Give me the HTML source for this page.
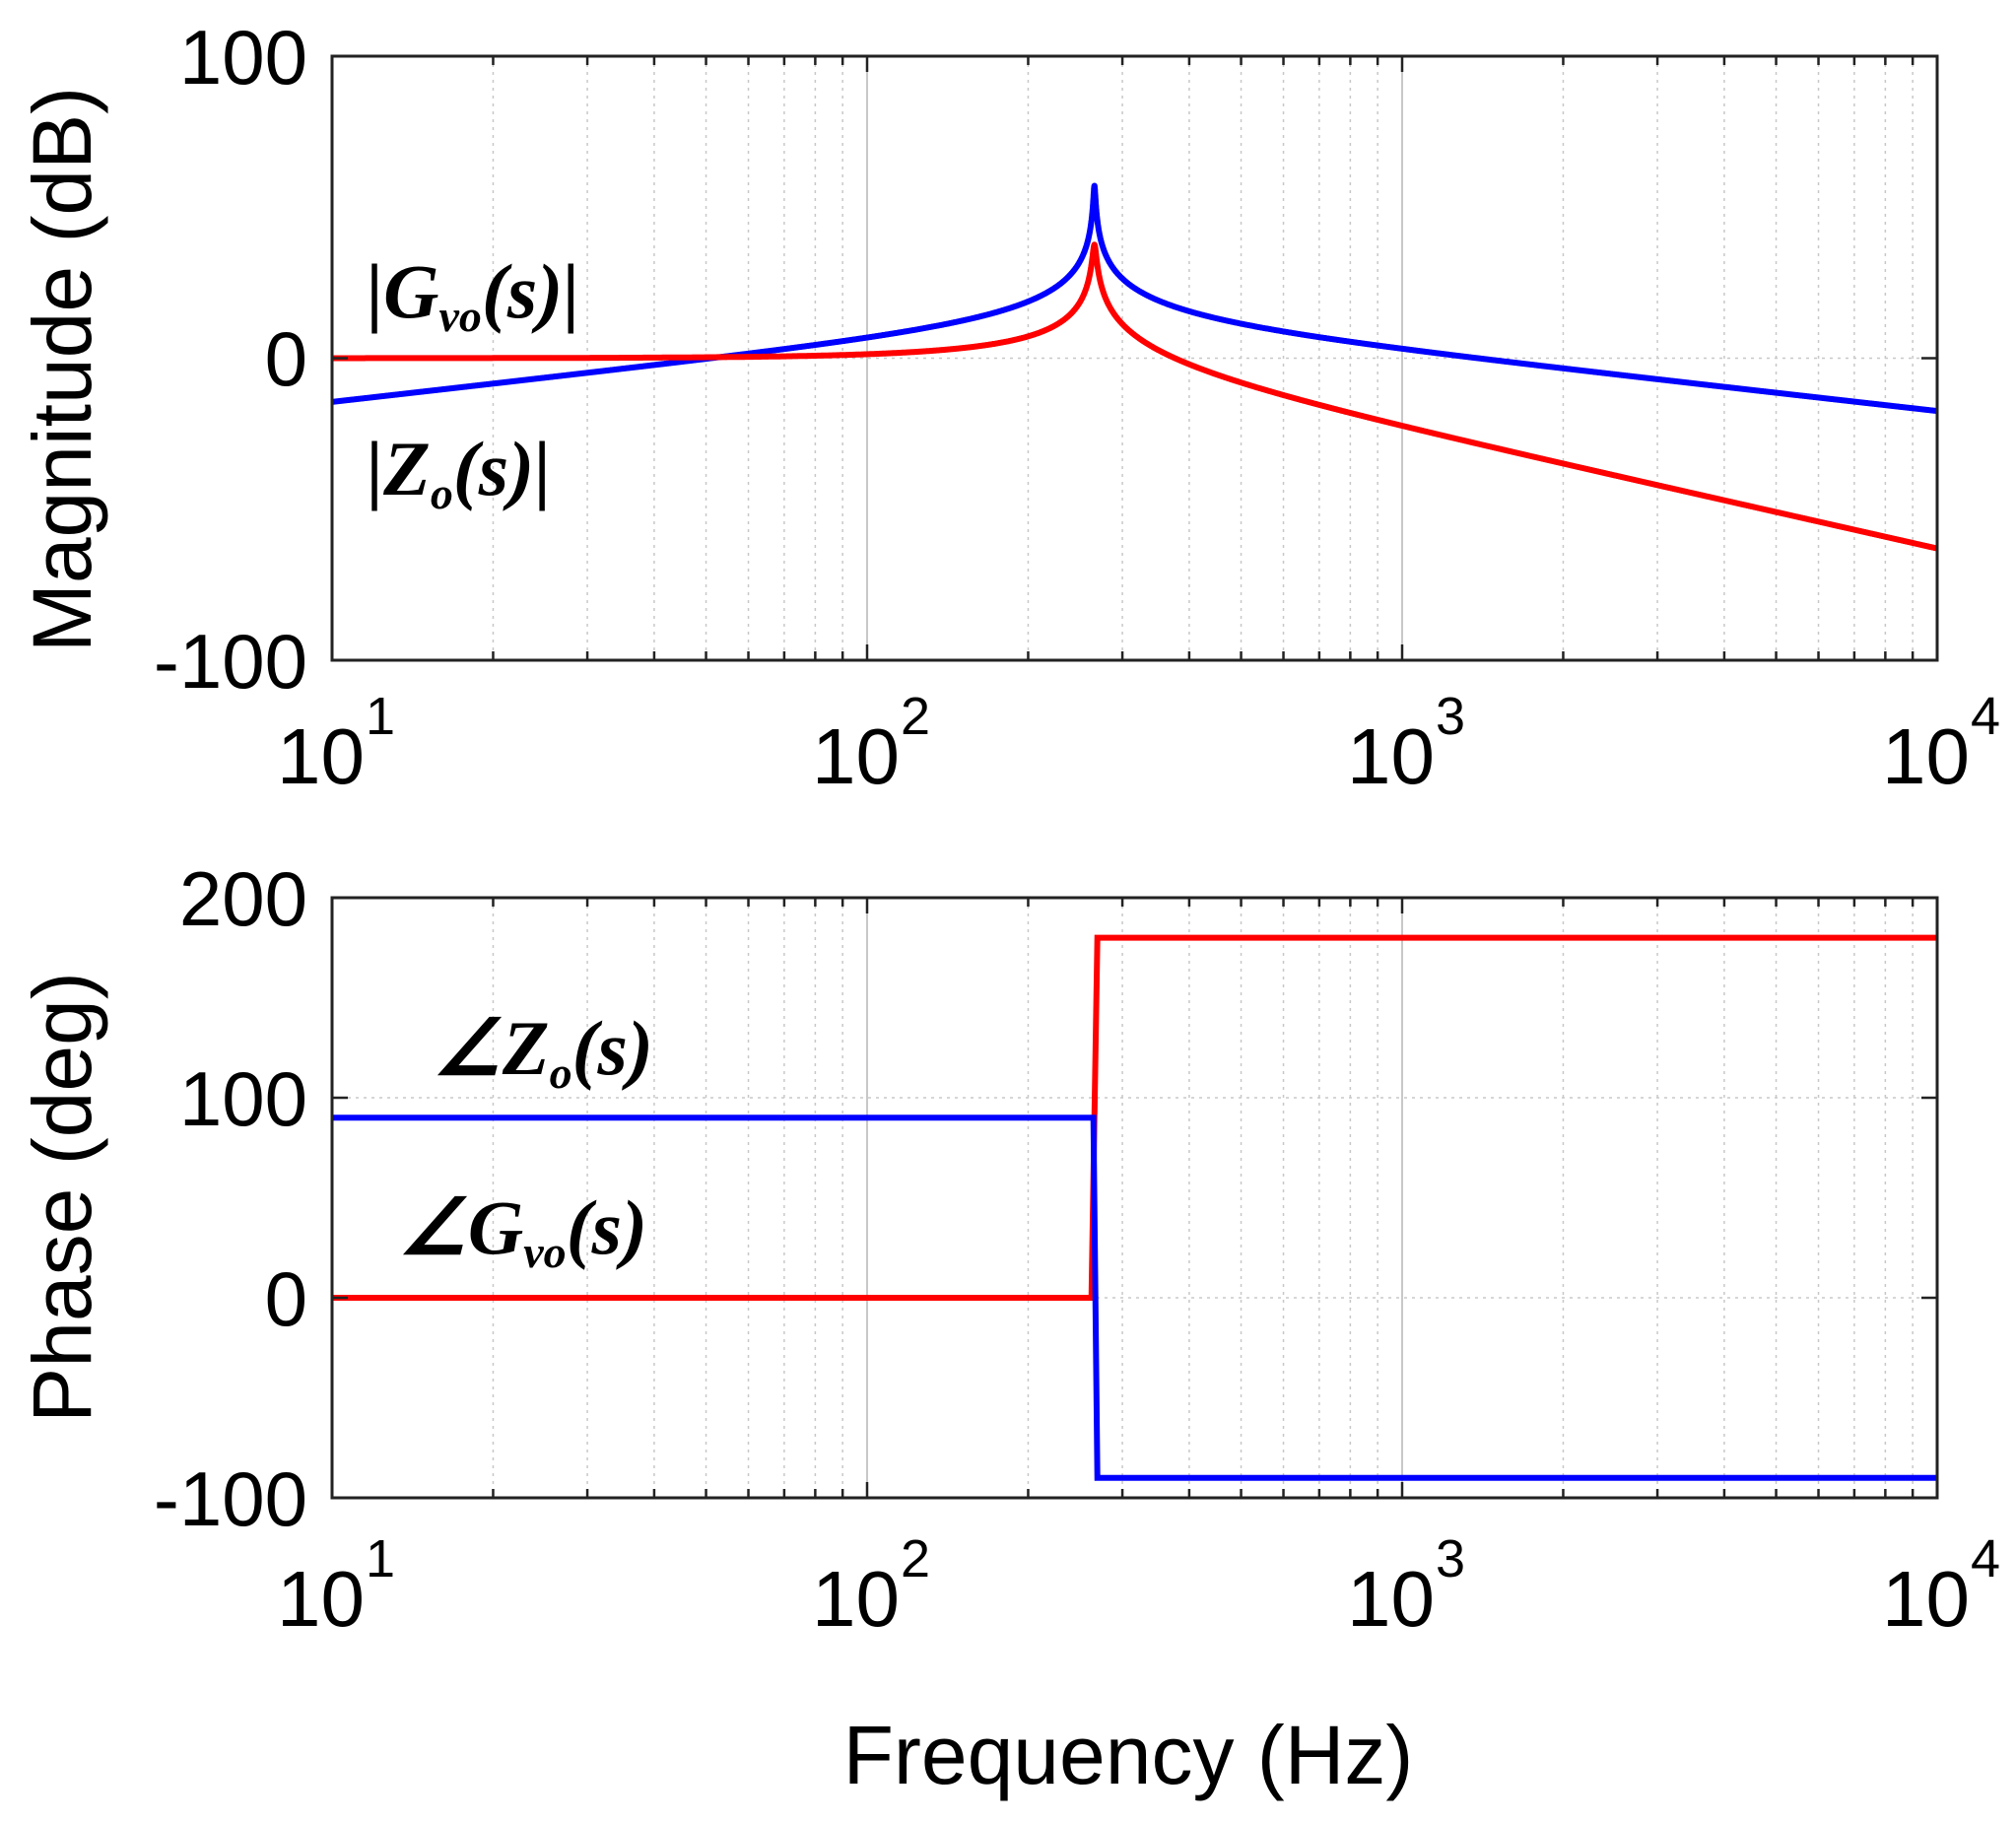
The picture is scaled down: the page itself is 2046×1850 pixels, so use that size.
<!DOCTYPE html>
<html><head><meta charset="utf-8"><style>
html,body{margin:0;padding:0;background:#fff;}
svg{display:block;}
text{font-family:"Liberation Sans",Arial,sans-serif;fill:#000;}
text.m, text.m tspan{font-family:"Liberation Serif","Times New Roman",serif;font-style:italic;font-weight:bold;}
</style></head><body>
<svg id="s" width="2046" height="1850" viewBox="0 0 2046 1850" xmlns="http://www.w3.org/2000/svg">
<g id="grid"></g>
<g id="curves"></g>
<g id="axes"></g>
<g font-size="78">
<text x="312" y="85" text-anchor="end">100</text>
<text x="312" y="391" text-anchor="end">0</text>
<text x="312" y="698" text-anchor="end">-100</text>
<text x="312" y="939" text-anchor="end">200</text>
<text x="312" y="1142" text-anchor="end">100</text>
<text x="312" y="1345" text-anchor="end">0</text>
<text x="312" y="1548" text-anchor="end">-100</text>
</g>
<g font-size="84" text-anchor="middle">
<text x="62" y="375" transform="rotate(-90 62 375)" dy="30">Magnitude (dB)</text>
<text x="62" y="1215" transform="rotate(-90 62 1215)" dy="30">Phase (deg)</text>
<text x="1145" y="1810">Frequency (Hz)</text>
</g>
<g id="xt" font-size="80"></g>
<g font-size="78">
<text class="m" x="372" y="322">|G<tspan font-size="46" dy="14">vo</tspan><tspan dy="-14">(s)|</tspan></text>
<text class="m" x="372" y="502">|Z<tspan font-size="46" dy="14">o</tspan><tspan dy="-14">(s)|</tspan></text>
<text class="m" x="440" y="1090">∠Z<tspan font-size="46" dy="14">o</tspan><tspan dy="-14">(s)</tspan></text>
<text class="m" x="405" y="1272">∠G<tspan font-size="46" dy="14">vo</tspan><tspan dy="-14">(s)</tspan></text>
</g>
</svg>
<script>
var L=337,R=1966,D=543;
function X(f){return L+(Math.log10(f)-1)*D;}
var panels=[{t:57,b:670,zero:363.5,step:306.5,h:[-100,0,100]},{t:911,b:1520,zero:1317,step:203,h:[-100,0,100,200]}];
var g=document.getElementById('grid'),a=document.getElementById('axes'),xt=document.getElementById('xt');
var NS='http://www.w3.org/2000/svg';
function el(p,n,at){var e=document.createElementNS(NS,n);for(var k in at)e.setAttribute(k,at[k]);p.appendChild(e);return e;}
panels.forEach(function(p){
 for(var d=1;d<4;d++)for(var m=1;m<10;m++){var f=Math.pow(10,d)*m;var x=X(f);if(x<=L+1||x>=R-1)continue;
  if(m==1)el(g,'line',{x1:x,x2:x,y1:p.t,y2:p.b,stroke:'#c8c8c8','stroke-width':2});
  else el(g,'line',{x1:x,x2:x,y1:p.t,y2:p.b,stroke:'#c8c8c8','stroke-width':1.5,'stroke-dasharray':'3,5'});
  var tl=m==1?16:9;
  el(a,'line',{x1:x,x2:x,y1:p.b,y2:p.b-tl,stroke:'#222','stroke-width':2.5});
  el(a,'line',{x1:x,x2:x,y1:p.t,y2:p.t+tl,stroke:'#222','stroke-width':2.5});
 }
 p.h.forEach(function(v){var y=p.zero-v/100*p.step;if(y>p.t+2&&y<p.b-2){
  el(g,'line',{x1:L,x2:R,y1:y,y2:y,stroke:'#c8c8c8','stroke-width':1.5,'stroke-dasharray':'3,5'});
  el(a,'line',{x1:L,x2:L+16,y1:y,y2:y,stroke:'#222','stroke-width':2.5});
  el(a,'line',{x1:R,x2:R-16,y1:y,y2:y,stroke:'#222','stroke-width':2.5});}});
 el(a,'rect',{x:L,y:p.t,width:R-L,height:p.b-p.t,fill:'none',stroke:'#222','stroke-width':3});
 var by=p===panels[0]?795:1650;
 for(var d=1;d<=4;d++){var x=X(Math.pow(10,d));
  var t=el(xt,'text',{x:x-56,y:by});t.textContent='10';
  var s=el(xt,'text',{x:x+34,y:by-50,'font-size':54});s.textContent=d;}
});
var c=document.getElementById('curves');
var f0=266,z=0.0066,zb=0.0035,fl=53,p0=panels[0];
var pr=[],pb=[];
var fs=[];for(var i=0;i<=3000;i++){fs.push(Math.pow(10,1+3*i/3000));}
for(var i=0;i<=600;i++){fs.push(f0*(0.9+0.2*i/600));}
fs.sort(function(a,b){return a-b;});
fs.forEach(function(f){var x=f/f0;
 var H=1/Math.sqrt(Math.pow(1-x*x,2)+Math.pow(2*z*x,2));
 var Hb=1/Math.sqrt(Math.pow(1-x*x,2)+Math.pow(2*zb*x,2));
 var r=20*Math.log10(H),b=20*Math.log10(Hb*f/fl);
 pr.push(X(f).toFixed(1)+','+(p0.zero-r/100*p0.step).toFixed(1));
 pb.push(X(f).toFixed(1)+','+(p0.zero-b/100*p0.step).toFixed(1));});
el(c,'polyline',{points:pb.join(' '),fill:'none',stroke:'#0000ff','stroke-width':6,'stroke-linejoin':'round'});
el(c,'polyline',{points:pr.join(' '),fill:'none',stroke:'#ff0000','stroke-width':6,'stroke-linejoin':'round'});
var xs=X(f0),p1=panels[1];
function Y(v){return p1.zero-v/100*p1.step;}
el(c,'polyline',{points:L+','+Y(0)+' '+(xs-3)+','+Y(0)+' '+(xs+3)+','+Y(180)+' '+R+','+Y(180),fill:'none',stroke:'#ff0000','stroke-width':6});
el(c,'polyline',{points:L+','+Y(90)+' '+(xs-1)+','+Y(90)+' '+(xs+3)+','+Y(-90)+' '+R+','+Y(-90),fill:'none',stroke:'#0000ff','stroke-width':6});
</script>
</body></html>
